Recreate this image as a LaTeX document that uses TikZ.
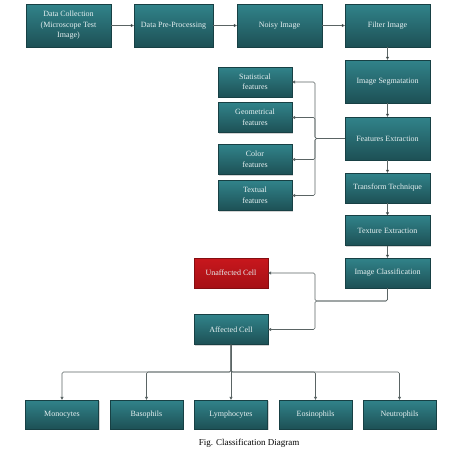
\documentclass[tikz,border=0pt]{standalone}
\usepackage{fontspec}
\setmainfont{Liberation Serif}
\usetikzlibrary{positioning, arrows.meta, shadows}

\definecolor{tealtop}{HTML}{31838A}
\definecolor{tealbot}{HTML}{1D5055}
\definecolor{redtop}{HTML}{C8171D}
\definecolor{redbot}{HTML}{A51015}
\definecolor{linegray}{HTML}{5A6464}

\tikzset{
  box/.style={draw=tealbot!80!black, line width=0.3pt, top color=tealtop, bottom color=tealbot,
    text=white!88!tealtop, align=center, inner sep=1pt,
    font=\fontsize{8}{10.5}\selectfont,
    drop shadow={shadow xshift=1pt, shadow yshift=-1.2pt, opacity=0.35}},
  redbox/.style={box, draw=redbot!80!black, top color=redtop, bottom color=redbot},
  wide/.style={minimum width=85pt, minimum height=43pt},
  slim/.style={minimum width=85pt, minimum height=30pt},
  small/.style={minimum width=74pt, minimum height=30pt},
  leaf/.style={minimum width=73pt, minimum height=29pt},
  link/.style={draw=linegray, line width=0.6pt, rounded corners=1.5pt, -{Triangle[length=3pt, width=3pt]}}
}

\begin{document}
\begin{tikzpicture}[x=1pt, y=-1pt]
   \useasboundingbox (0,0) rectangle (474,453);

   % top row
   \node[box, wide] (collect) at (68.5,25.5) {Data Collection\\(Microscope Test\\Image)};
   \node[box, wide, minimum width=79pt] (prep) at (173.5,25.5) {Data Pre-Processing};
   \node[box, wide] (noisy) at (279.5,25.5) {Noisy Image};
   \node[box, wide] (filter) at (387.5,25.5) {Filter Image};

   % right column
   \node[box, wide] (seg) at (387.5,81.5) {Image Segmatation};
   \node[box, wide] (feat) at (387.5,138.5) {Features Extraction};
   \node[box, slim] (trans) at (387.5,188) {Transform Technique};
   \node[box, slim] (texture) at (387.5,230.5) {Texture Extraction};
   \node[box, slim] (classify) at (387.5,273) {Image Classification};

   % feature types
   \node[box, small] (stat) at (255,82) {Statistical\\features};
   \node[box, small] (geo) at (255,117.5) {Geometrical\\features};
   \node[box, small] (color) at (255,159.5) {Color\\features};
   \node[box, small] (textual) at (255,195.5) {Textual\\features};

   % cells
   \node[redbox, small] (unaff) at (231,273) {Unaffected Cell};
   \node[box, small] (aff) at (231,329.5) {Affected Cell};

   % leaves
   \node[box, leaf] (mono) at (62,414.5) {Monocytes};
   \node[box, leaf] (baso) at (146.5,414.5) {Basophils};
   \node[box, leaf] (lymph) at (231,414.5) {Lymphocytes};
   \node[box, leaf] (eosin) at (315.5,414.5) {Eosinophils};
   \node[box, leaf] (neutro) at (399.5,414.5) {Neutrophils};

   \node[font=\fontsize{9}{11}\selectfont] (caption) at (249,443) {Fig. Classification Diagram};

   \coordinate (fbus) at (315,138.5);
   \coordinate (cbus) at (315,301);
   \coordinate (bbus) at (231,372);

   \path[link]
    (collect) edge (prep)
    (prep) edge (noisy)
    (noisy) edge (filter)
    (filter) edge (seg)
    (seg) edge (feat)
    (feat) edge (trans)
    (trans) edge (texture)
    (texture) edge (classify);

   \draw[link] (feat.west) -- (fbus) |- (stat.east);
   \draw[link] (feat.west) -- (fbus) |- (geo.east);
   \draw[link] (feat.west) -- (fbus) |- (color.east);
   \draw[link] (feat.west) -- (fbus) |- (textual.east);

   \draw[link] (classify.south) |- (cbus) |- (unaff.east);
   \draw[link] (classify.south) |- (cbus) |- (aff.east);

   \draw[link] (aff.south) -- (bbus) -| (mono.north);
   \draw[link] (aff.south) -- (bbus) -| (baso.north);
   \draw[link] (aff.south) -- (lymph.north);
   \draw[link] (aff.south) -- (bbus) -| (eosin.north);
   \draw[link] (aff.south) -- (bbus) -| (neutro.north);
\end{tikzpicture}
\end{document}
